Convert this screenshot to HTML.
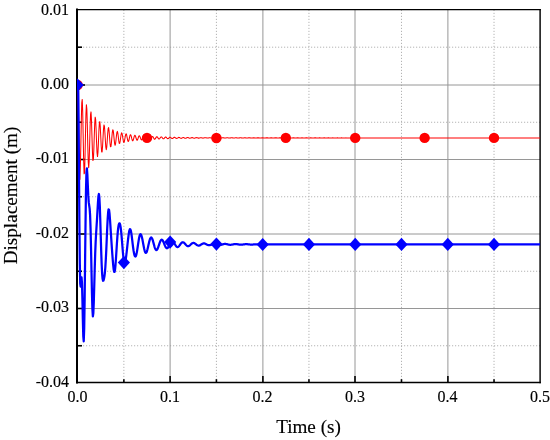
<!DOCTYPE html>
<html><head><meta charset="utf-8"><title>Displacement vs Time</title>
<style>html,body{margin:0;padding:0;background:#fff;}svg{display:block;}text{font-family:"Liberation Serif","Times New Roman",serif;fill:#000;stroke:#000;stroke-width:0.15px;}</style>
</head><body>
<svg width="550" height="440" viewBox="0 0 550 440">
<defs><clipPath id="c"><rect x="77.00" y="9.75" width="463.20" height="372.75"/></clipPath></defs>
<rect width="550" height="440" fill="#fff"/>
<g stroke="#b4b4b4" stroke-width="1" stroke-dasharray="1.2 1.8"><line x1="77.0" y1="47.20" x2="540.2" y2="47.20"/><line x1="77.0" y1="122.25" x2="540.2" y2="122.25"/><line x1="77.0" y1="196.75" x2="540.2" y2="196.75"/><line x1="77.0" y1="271.25" x2="540.2" y2="271.25"/><line x1="77.0" y1="345.75" x2="540.2" y2="345.75"/><line x1="123.87" y1="9.8" x2="123.87" y2="382.5"/><line x1="216.41" y1="9.8" x2="216.41" y2="382.5"/><line x1="308.95" y1="9.8" x2="308.95" y2="382.5"/><line x1="401.49" y1="9.8" x2="401.49" y2="382.5"/><line x1="494.03" y1="9.8" x2="494.03" y2="382.5"/></g>
<g stroke="#969696" stroke-width="1"><line x1="77.0" y1="85.00" x2="540.2" y2="85.00"/><line x1="77.0" y1="159.50" x2="540.2" y2="159.50"/><line x1="77.0" y1="234.00" x2="540.2" y2="234.00"/><line x1="77.0" y1="308.50" x2="540.2" y2="308.50"/><line x1="170.10" y1="9.8" x2="170.10" y2="382.5"/><line x1="262.90" y1="9.8" x2="262.90" y2="382.5"/><line x1="355.00" y1="9.8" x2="355.00" y2="382.5"/><line x1="447.90" y1="9.8" x2="447.90" y2="382.5"/></g>
<g stroke="#000" stroke-width="1.6"><line x1="77.0" y1="47.20" x2="82.0" y2="47.20"/><line x1="77.0" y1="85.00" x2="85.0" y2="85.00"/><line x1="77.0" y1="122.25" x2="82.0" y2="122.25"/><line x1="77.0" y1="159.50" x2="85.0" y2="159.50"/><line x1="77.0" y1="196.75" x2="82.0" y2="196.75"/><line x1="77.0" y1="234.00" x2="85.0" y2="234.00"/><line x1="77.0" y1="271.25" x2="82.0" y2="271.25"/><line x1="77.0" y1="308.50" x2="85.0" y2="308.50"/><line x1="77.0" y1="345.75" x2="82.0" y2="345.75"/><line x1="123.87" y1="382.5" x2="123.87" y2="379.2"/><line x1="170.10" y1="382.5" x2="170.10" y2="375.9"/><line x1="216.41" y1="382.5" x2="216.41" y2="379.2"/><line x1="262.90" y1="382.5" x2="262.90" y2="375.9"/><line x1="308.95" y1="382.5" x2="308.95" y2="379.2"/><line x1="355.00" y1="382.5" x2="355.00" y2="375.9"/><line x1="401.49" y1="382.5" x2="401.49" y2="379.2"/><line x1="447.90" y1="382.5" x2="447.90" y2="375.9"/><line x1="494.03" y1="382.5" x2="494.03" y2="379.2"/></g>
<g stroke="#000" stroke-linecap="square"><line x1="77" y1="9.6" x2="77" y2="382.55" stroke-width="2"/><line x1="77" y1="9.6" x2="540.1" y2="9.6" stroke-width="1.4"/><line x1="540.1" y1="9.6" x2="540.1" y2="382.55" stroke-width="1.45"/><line x1="77" y1="382.55" x2="540.1" y2="382.55" stroke-width="1.5"/></g>
<g clip-path="url(#c)">
<polyline fill="none" stroke="#ff0000" stroke-width="1.05" stroke-linejoin="round" points="77.60,85.00 78.06,92.26 78.53,117.94 78.99,150.56 79.45,175.52 79.91,179.48 80.38,165.40 80.84,145.49 81.30,120.68 81.76,102.84 82.23,99.42 82.69,111.34 83.15,134.85 83.62,159.27 84.08,173.85 84.54,172.95 85.00,157.69 85.47,135.02 85.93,114.62 86.39,104.76 86.85,109.00 87.32,124.92 87.78,145.41 88.24,161.84 88.70,167.64 89.17,160.93 89.63,145.08 90.09,127.03 90.56,114.32 91.02,111.90 91.48,120.30 91.94,135.53 92.41,151.00 92.87,160.35 93.33,160.02 93.79,150.62 94.26,136.43 94.72,123.52 95.18,117.15 95.65,119.61 96.11,129.47 96.57,142.33 97.03,152.75 97.50,156.57 97.96,152.53 98.42,142.67 98.88,131.32 99.35,123.22 99.81,121.54 100.27,126.67 100.73,136.17 101.20,145.93 101.66,151.92 102.12,151.86 102.59,146.06 103.05,137.19 103.51,129.03 103.97,124.91 104.44,126.32 104.90,132.43 105.36,140.50 105.82,147.11 106.29,149.62 106.75,147.19 107.21,141.06 107.68,133.92 108.14,128.76 108.60,127.61 109.06,130.74 109.53,136.67 109.99,142.82 110.45,146.65 110.91,146.71 111.38,143.14 111.84,137.59 112.30,132.43 112.77,129.77 113.23,130.58 113.69,134.36 114.15,139.42 114.62,143.61 115.08,145.25 115.54,143.80 116.00,139.98 116.47,135.50 116.93,132.21 117.39,131.42 117.85,133.33 118.32,137.03 118.78,140.91 119.24,143.36 119.71,143.46 120.17,141.26 120.63,137.79 121.09,134.52 121.56,132.81 122.02,133.27 122.48,135.61 122.94,138.78 123.41,141.44 123.87,142.52 124.33,141.64 124.80,139.27 125.26,136.45 125.72,134.36 126.18,133.82 126.65,134.99 127.11,137.30 127.57,139.74 128.03,141.32 128.50,141.41 128.96,140.06 129.42,137.88 129.89,135.81 130.35,134.70 130.81,134.95 131.27,136.41 131.74,138.42 132.20,140.12 132.66,140.83 133.12,140.30 133.59,138.81 134.05,137.01 134.51,135.65 134.97,135.28 135.44,136.01 135.90,137.48 136.36,139.07 136.83,140.11 137.29,140.19 137.75,139.33 138.21,137.90 138.68,136.53 139.14,135.77 139.60,135.92 140.06,136.89 140.53,138.24 140.99,139.41 141.45,139.92 141.92,139.57 142.38,138.54 142.84,137.27 143.30,136.29 143.77,136.01 144.23,136.53 144.69,137.61 145.15,138.78 145.62,139.55 146.08,139.62 146.54,138.97 147.00,137.89 147.47,136.84 147.93,136.26 148.39,136.38 148.86,137.13 149.32,138.18 149.78,139.09 150.24,139.47 150.71,139.19 151.17,138.38 151.63,137.40 152.09,136.65 152.56,136.45 153.02,136.86 153.48,137.69 153.95,138.57 154.41,139.15 154.87,139.19 155.33,138.69 155.80,137.89 156.26,137.11 156.72,136.70 157.18,136.79 157.65,137.34 158.11,138.11 158.57,138.75 159.04,139.03 159.50,138.82 159.96,138.24 160.42,137.54 160.89,137.02 161.35,136.88 161.81,137.16 162.27,137.75 162.74,138.37 163.20,138.78 163.66,138.80 164.12,138.46 164.59,137.89 165.05,137.35 165.51,137.06 165.98,137.12 166.44,137.51 166.90,138.04 167.36,138.50 167.83,138.69 168.29,138.55 168.75,138.14 169.21,137.65 169.68,137.28 170.14,137.18 170.60,137.38 171.07,137.79 171.53,138.23 171.99,138.51 172.45,138.54 172.92,138.30 173.38,137.90 173.84,137.52 174.30,137.31 174.77,137.35 175.23,137.62 175.69,138.00 176.16,138.32 176.62,138.46 177.08,138.36 177.54,138.08 178.01,137.73 178.47,137.46 178.93,137.39 179.39,137.53 179.86,137.82 180.32,138.13 180.78,138.34 181.24,138.36 181.71,138.18 182.17,137.90 182.63,137.63 183.10,137.48 183.56,137.50 184.02,137.70 184.48,137.97 184.95,138.20 185.41,138.30 185.87,138.23 186.33,138.03 186.80,137.78 187.26,137.59 187.72,137.53 188.19,137.63 188.65,137.84 189.11,138.07 189.57,138.22 190.04,138.23 190.50,138.11 190.96,137.90 191.42,137.70 191.89,137.59 192.35,137.61 192.81,137.75 193.27,137.95 193.74,138.12 194.20,138.19 194.66,138.14 195.13,138.00 195.59,137.81 196.05,137.67 196.51,137.63 196.98,137.70 197.44,137.85 197.90,138.02 198.36,138.13 198.83,138.14 199.29,138.05 199.75,137.90 200.22,137.76 200.68,137.67 201.14,137.69 201.60,137.79 202.07,137.93 202.53,138.06 202.99,138.12 203.45,138.08 203.92,137.97 204.38,137.84 204.84,137.73 205.31,137.70 205.77,137.75 206.23,137.86 206.69,137.99 207.16,138.07 207.62,138.08 208.08,138.02 208.54,137.90 209.01,137.79 209.47,137.73 209.93,137.74 210.39,137.81 210.86,137.92 211.32,138.02 211.78,138.06 212.25,138.04 212.71,137.96 213.17,137.85 213.63,137.77 214.10,137.75 214.56,137.79 215.02,137.87 215.48,137.97 215.95,138.03 216.41,138.04 216.87,137.99 217.34,137.90 217.80,137.82 218.26,137.77 218.72,137.78 219.19,137.83 219.65,137.92 220.11,137.99 220.57,138.03 221.04,138.01 221.50,137.94 221.96,137.86 222.43,137.80 222.89,137.78 223.35,137.81 223.81,137.88 224.28,137.95 224.74,138.00 225.20,138.01 225.66,137.97 226.13,137.90 226.59,137.84 227.05,137.80 227.51,137.80 227.98,137.85 228.44,137.91 228.90,137.97 229.37,138.00 229.83,137.98 230.29,137.93 230.75,137.87 231.22,137.82 231.68,137.81 232.14,137.83 232.60,137.88 233.07,137.94 233.53,137.98 233.99,137.98 234.46,137.95 234.92,137.90 235.38,137.85 235.84,137.82 236.31,137.83 236.77,137.86 237.23,137.91 237.69,137.95 238.16,137.98 238.62,137.96 239.08,137.93 239.55,137.88 240.01,137.84 240.47,137.83 240.93,137.85 241.40,137.88 241.86,137.93 242.32,137.96 242.78,137.97 243.25,137.94 243.71,137.90 244.17,137.86 244.63,137.84 245.10,137.84 245.56,137.87 246.02,137.91 246.49,137.94 246.95,137.96 247.41,137.95 247.87,137.92 248.34,137.88 248.80,137.85 249.26,137.84 249.72,137.86 250.19,137.89 250.65,137.92 251.11,137.95 251.58,137.95 252.04,137.93 252.50,137.90 252.96,137.87 253.43,137.85 253.89,137.85 254.35,137.87 254.81,137.90 255.28,137.93 255.74,137.95 256.20,137.94 256.66,137.92 257.13,137.89 257.59,137.86 258.05,137.86 258.52,137.87 258.98,137.89 259.44,137.92 259.90,137.94 260.37,137.94 260.83,137.93 261.29,137.90 261.75,137.88 262.22,137.86 262.68,137.86 263.14,137.88 263.61,137.90 264.07,137.93 264.53,137.94 264.99,137.93 265.46,137.91 265.92,137.89 266.38,137.87 266.84,137.86 267.31,137.87 267.77,137.89 268.23,137.91 268.70,137.93 269.16,137.93 269.62,137.92 270.08,137.90 270.55,137.88 271.01,137.87 271.47,137.87 271.93,137.88 272.40,137.90 272.86,137.92 273.32,137.93 273.78,137.93 274.25,137.91 274.71,137.89 275.17,137.88 275.64,137.87 276.10,137.88 276.56,137.89 277.02,137.91 277.49,137.92 277.95,137.93 278.41,137.92 278.87,137.90 279.34,137.89 279.80,137.88 280.26,137.88 280.73,137.89 281.19,137.90 281.65,137.92 282.11,137.92 282.58,137.92 283.04,137.91 283.50,137.89 283.96,137.88 284.43,137.88 284.89,137.88 285.35,137.89 285.81,137.91 286.28,137.92 286.74,137.92 287.20,137.92 287.67,137.90 288.13,137.89 288.59,137.88 289.05,137.88 289.52,137.89 289.98,137.90 290.44,137.91 290.90,137.92 291.37,137.92 291.83,137.91 292.29,137.90 292.76,137.89 293.22,137.88 293.68,137.89 294.14,137.89 294.61,137.91 295.07,137.92 295.53,137.92 295.99,137.91 296.46,137.90 296.92,137.89 297.38,137.88 297.85,137.88 298.31,137.89 298.77,137.90 299.23,137.91 299.70,137.92 300.16,137.91 300.62,137.91 301.08,137.90 301.55,137.89 302.01,137.89 302.47,137.89 302.93,137.90 303.40,137.90 303.86,137.91 304.32,137.91 304.79,137.91 305.25,137.90 305.71,137.89 306.17,137.89 306.64,137.89 307.10,137.89 307.56,137.90 308.02,137.91 308.49,137.91 308.95,137.91 309.41,137.91 309.88,137.90 310.34,137.89 310.80,137.89 311.26,137.89 311.73,137.90 312.19,137.90 312.65,137.91 313.11,137.91 313.58,137.91 314.04,137.90 314.50,137.89 314.97,137.89 315.43,137.89 315.89,137.89 316.35,137.90 316.82,137.91 317.28,137.91 317.74,137.91 318.20,137.90 318.67,137.90 319.13,137.89 319.59,137.89 320.05,137.89 320.52,137.90 320.98,137.90 321.44,137.91 321.91,137.91 322.37,137.91 322.83,137.90 323.29,137.90 323.76,137.89 324.22,137.89 324.68,137.89 325.14,137.90 325.61,137.91 326.07,137.91 326.53,137.91 327.00,137.90 327.46,137.90 327.92,137.89 328.38,137.89 328.85,137.89 329.31,137.90 329.77,137.90 330.23,137.91 330.70,137.91 331.16,137.91 331.62,137.90 332.09,137.90 332.55,137.89 333.01,137.89 333.47,137.90 333.94,137.90 334.40,137.90 334.86,137.91 335.32,137.91 335.79,137.90 336.25,137.90 336.71,137.90 337.17,137.89 337.64,137.89 338.10,137.90 338.56,137.90 339.03,137.90 339.49,137.91 339.95,137.90 340.41,137.90 340.88,137.90 341.34,137.89 341.80,137.89 342.26,137.90 342.73,137.90 343.19,137.90 343.65,137.91 344.12,137.91 344.58,137.90 345.04,137.90 345.50,137.90 345.97,137.89 346.43,137.90 346.89,137.90 347.35,137.90 347.82,137.90 348.28,137.90 348.74,137.90 349.20,137.90 349.67,137.90 350.13,137.90 350.59,137.90 351.06,137.90 351.52,137.90 351.98,137.90 352.44,137.90 352.91,137.90 353.37,137.90 353.83,137.90 354.29,137.90 354.76,137.90 355.22,137.90 355.68,137.90 356.15,137.90 356.61,137.90 357.07,137.90 357.53,137.90 358.00,137.90 358.46,137.90 358.92,137.90 359.38,137.90 359.85,137.90 360.31,137.90 360.77,137.90 361.24,137.90 361.70,137.90 362.16,137.90 362.62,137.90 363.09,137.90 363.55,137.90 364.01,137.90 364.47,137.90 364.94,137.90 365.40,137.90 365.86,137.90 366.32,137.90 366.79,137.90 367.25,137.90 367.71,137.90 368.18,137.90 368.64,137.90 369.10,137.90 369.56,137.90 370.03,137.90 370.49,137.90 370.95,137.90 371.41,137.90 371.88,137.90 372.34,137.90 372.80,137.90 373.27,137.90 373.73,137.90 374.19,137.90 374.65,137.90 375.12,137.90 375.58,137.90 376.04,137.90 376.50,137.90 376.97,137.90 377.43,137.90 377.89,137.90 378.36,137.90 378.82,137.90 379.28,137.90 379.74,137.90 380.21,137.90 380.67,137.90 381.13,137.90 381.59,137.90 382.06,137.90 382.52,137.90 382.98,137.90 383.44,137.90 383.91,137.90 384.37,137.90 384.83,137.90 385.30,137.90 385.76,137.90 386.22,137.90 386.68,137.90 387.15,137.90 387.61,137.90 388.07,137.90 388.53,137.90 389.00,137.90 389.46,137.90 389.92,137.90 390.39,137.90 390.85,137.90 391.31,137.90 391.77,137.90 392.24,137.90 392.70,137.90 393.16,137.90 393.62,137.90 394.09,137.90 394.55,137.90 395.01,137.90 395.47,137.90 395.94,137.90 396.40,137.90 396.86,137.90 397.33,137.90 397.79,137.90 398.25,137.90 398.71,137.90 399.18,137.90 399.64,137.90 400.10,137.90 400.56,137.90 401.03,137.90 401.49,137.90 401.95,137.90 402.42,137.90 402.88,137.90 403.34,137.90 403.80,137.90 404.27,137.90 404.73,137.90 405.19,137.90 405.65,137.90 406.12,137.90 406.58,137.90 407.04,137.90 407.51,137.90 407.97,137.90 408.43,137.90 408.89,137.90 409.36,137.90 409.82,137.90 410.28,137.90 410.74,137.90 411.21,137.90 411.67,137.90 412.13,137.90 412.59,137.90 413.06,137.90 413.52,137.90 413.98,137.90 414.45,137.90 414.91,137.90 415.37,137.90 415.83,137.90 416.30,137.90 416.76,137.90 417.22,137.90 417.68,137.90 418.15,137.90 418.61,137.90 419.07,137.90 419.54,137.90 420.00,137.90 420.46,137.90 420.92,137.90 421.39,137.90 421.85,137.90 422.31,137.90 422.77,137.90 423.24,137.90 423.70,137.90 424.16,137.90 424.62,137.90 425.09,137.90 425.55,137.90 426.01,137.90 426.48,137.90 426.94,137.90 427.40,137.90 427.86,137.90 428.33,137.90 428.79,137.90 429.25,137.90 429.71,137.90 430.18,137.90 430.64,137.90 431.10,137.90 431.57,137.90 432.03,137.90 432.49,137.90 432.95,137.90 433.42,137.90 433.88,137.90 434.34,137.90 434.80,137.90 435.27,137.90 435.73,137.90 436.19,137.90 436.66,137.90 437.12,137.90 437.58,137.90 438.04,137.90 438.51,137.90 438.97,137.90 439.43,137.90 439.89,137.90 440.36,137.90 440.82,137.90 441.28,137.90 441.74,137.90 442.21,137.90 442.67,137.90 443.13,137.90 443.60,137.90 444.06,137.90 444.52,137.90 444.98,137.90 445.45,137.90 445.91,137.90 446.37,137.90 446.83,137.90 447.30,137.90 447.76,137.90 448.22,137.90 448.69,137.90 449.15,137.90 449.61,137.90 450.07,137.90 450.54,137.90 451.00,137.90 451.46,137.90 451.92,137.90 452.39,137.90 452.85,137.90 453.31,137.90 453.78,137.90 454.24,137.90 454.70,137.90 455.16,137.90 455.63,137.90 456.09,137.90 456.55,137.90 457.01,137.90 457.48,137.90 457.94,137.90 458.40,137.90 458.86,137.90 459.33,137.90 459.79,137.90 460.25,137.90 460.72,137.90 461.18,137.90 461.64,137.90 462.10,137.90 462.57,137.90 463.03,137.90 463.49,137.90 463.95,137.90 464.42,137.90 464.88,137.90 465.34,137.90 465.81,137.90 466.27,137.90 466.73,137.90 467.19,137.90 467.66,137.90 468.12,137.90 468.58,137.90 469.04,137.90 469.51,137.90 469.97,137.90 470.43,137.90 470.89,137.90 471.36,137.90 471.82,137.90 472.28,137.90 472.75,137.90 473.21,137.90 473.67,137.90 474.13,137.90 474.60,137.90 475.06,137.90 475.52,137.90 475.98,137.90 476.45,137.90 476.91,137.90 477.37,137.90 477.84,137.90 478.30,137.90 478.76,137.90 479.22,137.90 479.69,137.90 480.15,137.90 480.61,137.90 481.07,137.90 481.54,137.90 482.00,137.90 482.46,137.90 482.93,137.90 483.39,137.90 483.85,137.90 484.31,137.90 484.78,137.90 485.24,137.90 485.70,137.90 486.16,137.90 486.63,137.90 487.09,137.90 487.55,137.90 488.01,137.90 488.48,137.90 488.94,137.90 489.40,137.90 489.87,137.90 490.33,137.90 490.79,137.90 491.25,137.90 491.72,137.90 492.18,137.90 492.64,137.90 493.10,137.90 493.57,137.90 494.03,137.90 494.49,137.90 494.96,137.90 495.42,137.90 495.88,137.90 496.34,137.90 496.81,137.90 497.27,137.90 497.73,137.90 498.19,137.90 498.66,137.90 499.12,137.90 499.58,137.90 500.05,137.90 500.51,137.90 500.97,137.90 501.43,137.90 501.90,137.90 502.36,137.90 502.82,137.90 503.28,137.90 503.75,137.90 504.21,137.90 504.67,137.90 505.13,137.90 505.60,137.90 506.06,137.90 506.52,137.90 506.99,137.90 507.45,137.90 507.91,137.90 508.37,137.90 508.84,137.90 509.30,137.90 509.76,137.90 510.22,137.90 510.69,137.90 511.15,137.90 511.61,137.90 512.08,137.90 512.54,137.90 513.00,137.90 513.46,137.90 513.93,137.90 514.39,137.90 514.85,137.90 515.31,137.90 515.78,137.90 516.24,137.90 516.70,137.90 517.16,137.90 517.63,137.90 518.09,137.90 518.55,137.90 519.02,137.90 519.48,137.90 519.94,137.90 520.40,137.90 520.87,137.90 521.33,137.90 521.79,137.90 522.25,137.90 522.72,137.90 523.18,137.90 523.64,137.90 524.11,137.90 524.57,137.90 525.03,137.90 525.49,137.90 525.96,137.90 526.42,137.90 526.88,137.90 527.34,137.90 527.81,137.90 528.27,137.90 528.73,137.90 529.20,137.90 529.66,137.90 530.12,137.90 530.58,137.90 531.05,137.90 531.51,137.90 531.97,137.90 532.43,137.90 532.90,137.90 533.36,137.90 533.82,137.90 534.28,137.90 534.75,137.90 535.21,137.90 535.67,137.90 536.14,137.90 536.60,137.90 537.06,137.90 537.52,137.90 537.99,137.90 538.45,137.90 538.91,137.90 539.37,137.90 539.84,137.90 540.30,137.90"/>
<circle cx="77.60" cy="85.00" r="5.2" fill="#ff0000"/>
<circle cx="147.00" cy="137.89" r="5.2" fill="#ff0000"/>
<circle cx="216.41" cy="138.04" r="5.2" fill="#ff0000"/>
<circle cx="285.81" cy="137.91" r="5.2" fill="#ff0000"/>
<circle cx="355.22" cy="137.90" r="5.2" fill="#ff0000"/>
<circle cx="424.62" cy="137.90" r="5.2" fill="#ff0000"/>
<circle cx="494.03" cy="137.90" r="5.2" fill="#ff0000"/>
<polyline fill="none" stroke="#0000ff" stroke-width="2.25" stroke-linejoin="round" points="78.20,85.00 78.59,119.77 78.99,171.57 79.40,224.01 79.81,263.44 80.23,283.55 80.66,286.60 81.09,281.14 81.52,277.45 81.96,282.81 82.40,298.42 82.84,319.24 83.29,336.45 83.73,341.32 84.18,328.97 84.63,300.29 85.08,261.58 85.54,222.06 85.99,190.53 86.45,172.41 86.90,168.31 87.36,174.63 87.82,185.54 88.28,195.67 88.73,202.16 89.19,205.46 89.65,208.61 90.11,215.44 90.57,228.59 91.03,248.12 91.50,271.24 91.96,293.30 92.42,309.44 92.88,316.30 93.34,313.08 93.80,301.60 94.26,285.42 94.73,268.46 95.19,253.64 95.65,242.17 96.11,233.53 96.57,226.21 97.04,218.75 97.50,210.60 97.96,202.51 98.42,196.28 98.89,194.01 99.35,197.21 99.81,206.18 100.27,219.74 100.74,235.65 101.20,251.26 101.66,264.32 102.12,273.55 102.59,278.79 103.05,280.74 103.51,280.47 103.97,278.87 104.44,276.29 104.90,272.51 105.36,267.02 105.82,259.44 106.29,249.84 106.75,238.96 107.21,228.09 107.68,218.74 108.14,212.21 108.60,209.27 109.06,209.95 109.53,213.68 109.99,219.50 110.45,226.40 110.91,233.61 111.38,240.68 111.84,247.48 112.30,253.98 112.77,260.06 113.23,265.43 113.69,269.56 114.15,271.86 114.62,271.85 115.08,269.34 115.54,264.54 116.00,258.04 116.47,250.66 116.93,243.28 117.39,236.62 117.85,231.16 118.32,227.13 118.78,224.53 119.24,223.28 119.71,223.31 120.17,224.60 120.63,227.16 121.09,230.93 121.56,235.79 122.02,241.39 122.48,247.26 122.94,252.82 123.41,257.52 123.87,260.91 124.33,262.73 124.80,262.96 125.26,261.74 125.72,259.35 126.18,256.08 126.65,252.23 127.11,248.04 127.57,243.75 128.03,239.58 128.50,235.77 128.96,232.59 129.42,230.32 129.89,229.16 130.35,229.25 130.81,230.58 131.27,232.99 131.74,236.23 132.20,239.95 132.66,243.81 133.12,247.49 133.59,250.75 134.05,253.38 134.51,255.28 134.97,256.37 135.44,256.61 135.90,255.99 136.36,254.55 136.83,252.37 137.29,249.62 137.75,246.52 138.21,243.32 138.68,240.30 139.14,237.72 139.60,235.76 140.06,234.56 140.53,234.15 140.99,234.53 141.45,235.59 141.92,237.24 142.38,239.33 142.84,241.71 143.30,244.22 143.77,246.68 144.23,248.91 144.69,250.77 145.15,252.09 145.62,252.80 146.08,252.84 146.54,252.22 147.01,251.02 147.47,249.36 147.93,247.40 148.39,245.30 148.86,243.23 149.32,241.32 149.78,239.71 150.24,238.49 150.71,237.74 151.17,237.49 151.63,237.75 152.09,238.50 152.56,239.68 153.02,241.17 153.48,242.87 153.95,244.63 154.41,246.32 154.87,247.79 155.33,248.96 155.80,249.73 156.26,250.09 156.72,250.00 157.18,249.52 157.65,248.67 158.11,247.55 158.57,246.23 159.04,244.81 159.50,243.41 159.96,242.12 160.42,241.03 160.89,240.24 161.35,239.78 161.81,239.69 162.27,239.95 162.74,240.54 163.20,241.40 163.66,242.45 164.12,243.60 164.59,244.78 165.05,245.88 165.51,246.83 165.98,247.58 166.44,248.07 166.90,248.27 167.36,248.18 167.83,247.81 168.29,247.19 168.75,246.39 169.21,245.46 169.68,244.49 170.14,243.54 170.60,242.69 171.07,242.00 171.53,241.51 171.99,241.25 172.45,241.24 172.92,241.45 173.38,241.88 173.84,242.48 174.30,243.20 174.77,243.99 175.23,244.79 175.69,245.53 176.16,246.16 176.62,246.64 177.08,246.93 177.54,247.03 178.01,246.93 178.47,246.64 178.93,246.20 179.39,245.63 179.86,245.00 180.32,244.34 180.78,243.71 181.24,243.15 181.71,242.71 182.17,242.40 182.63,242.25 183.10,242.27 183.56,242.44 184.02,242.75 184.48,243.18 184.95,243.69 185.41,244.23 185.87,244.76 186.33,245.25 186.80,245.66 187.26,245.96 187.72,246.14 188.19,246.18 188.65,246.09 189.11,245.87 189.57,245.56 190.04,245.16 190.50,244.73 190.96,244.28 191.42,243.86 191.89,243.49 192.35,243.20 192.81,243.01 193.28,242.93 193.74,242.97 194.20,243.10 194.66,243.33 195.13,243.63 195.59,243.98 196.05,244.35 196.51,244.71 196.98,245.03 197.44,245.30 197.90,245.49 198.36,245.59 198.83,245.60 199.29,245.52 199.75,245.36 200.22,245.14 200.68,244.86 201.14,244.57 201.60,244.27 202.07,243.98 202.53,243.74 202.99,243.56 203.45,243.45 203.92,243.41 204.38,243.44 204.84,243.55 205.31,243.71 205.77,243.92 206.23,244.16 206.69,244.41 207.16,244.65 207.62,244.86 208.08,245.04 208.54,245.15 209.01,245.21 209.47,245.21 209.93,245.15 210.39,245.03 210.86,244.87 211.32,244.68 211.78,244.48 212.25,244.27 212.71,244.09 213.17,243.93 213.63,243.81 214.10,243.74 214.56,243.73 215.02,243.76 215.48,243.84 215.95,243.96 216.41,244.10 216.87,244.27 217.34,244.44 217.80,244.60 218.26,244.74 218.72,244.85 219.19,244.92 219.65,244.95 220.11,244.94 220.57,244.89 221.04,244.81 221.50,244.70 221.96,244.56 222.43,244.43 222.89,244.29 223.35,244.17 223.81,244.06 224.28,243.99 224.74,243.95 225.20,243.94 225.66,243.97 226.13,244.03 226.59,244.12 227.05,244.22 227.51,244.33 227.98,244.45 228.44,244.55 228.90,244.64 229.37,244.72 229.83,244.76 230.29,244.78 230.75,244.76 231.22,244.73 231.68,244.66 232.14,244.59 232.60,244.49 233.07,244.40 233.53,244.31 233.99,244.23 234.46,244.16 234.92,244.12 235.38,244.09 235.84,244.09 236.31,244.12 236.77,244.16 237.23,244.22 237.69,244.29 238.16,244.37 238.62,244.44 239.08,244.52 239.55,244.58 240.01,244.62 240.47,244.65 240.93,244.66 241.40,244.64 241.86,244.61 242.32,244.57 242.78,244.51 243.25,244.45 243.71,244.39 244.17,244.33 244.63,244.27 245.10,244.23 245.56,244.20 246.02,244.19 246.49,244.19 246.95,244.21 247.41,244.24 247.87,244.29 248.34,244.34 248.80,244.39 249.26,244.44 249.72,244.49 250.19,244.53 250.65,244.55 251.11,244.57 251.58,244.57 252.04,244.56 252.50,244.54 252.96,244.51 253.43,244.47 253.89,244.43 254.35,244.38 254.81,244.34 255.28,244.31 255.74,244.28 256.20,244.26 256.66,244.26 257.13,244.26 257.59,244.28 258.05,244.30 258.52,244.33 258.98,244.36 259.44,244.40 259.90,244.43 260.37,244.46 260.83,244.49 261.29,244.51 261.75,244.52 262.22,244.52 262.68,244.51 263.14,244.49 263.61,244.47 264.07,244.44 264.53,244.41 264.99,244.38 265.46,244.36 265.92,244.33 266.38,244.32 266.84,244.31 267.31,244.30 267.77,244.31 268.23,244.32 268.70,244.33 269.16,244.36 269.62,244.38 270.08,244.40 270.55,244.43 271.01,244.45 271.47,244.46 271.93,244.47 272.40,244.48 272.86,244.48 273.32,244.47 273.78,244.46 274.25,244.44 274.71,244.43 275.17,244.41 275.64,244.39 276.10,244.37 276.56,244.35 277.02,244.34 277.49,244.34 277.95,244.33 278.41,244.34 278.87,244.35 279.34,244.36 279.80,244.37 280.26,244.39 280.73,244.41 281.19,244.42 281.65,244.43 282.11,244.44 282.58,244.45 283.04,244.45 283.50,244.45 283.96,244.45 284.43,244.44 284.89,244.43 285.35,244.41 285.81,244.40 286.28,244.39 286.74,244.38 287.20,244.37 287.67,244.36 288.13,244.36 288.59,244.36 289.05,244.36 289.52,244.36 289.98,244.37 290.44,244.38 290.90,244.39 291.37,244.41 291.83,244.42 292.29,244.42 292.76,244.43 293.22,244.44 293.68,244.44 294.14,244.44 294.61,244.43 295.07,244.43 295.53,244.42 295.99,244.41 296.46,244.40 296.92,244.39 297.38,244.38 297.85,244.38 298.31,244.37 298.77,244.37 299.23,244.37 299.70,244.37 300.16,244.38 300.62,244.38 301.08,244.39 301.55,244.40 302.01,244.40 302.47,244.41 302.93,244.42 303.40,244.42 303.86,244.42 304.32,244.42 304.79,244.42 305.25,244.42 305.71,244.42 306.17,244.41 306.64,244.40 307.10,244.40 307.56,244.39 308.02,244.39 308.49,244.38 308.95,244.38 309.41,244.38 309.88,244.38 310.34,244.38 310.80,244.39 311.26,244.39 311.73,244.39 312.19,244.40 312.65,244.40 313.11,244.41 313.58,244.41 314.04,244.42 314.50,244.42 314.97,244.42 315.43,244.42 315.89,244.41 316.35,244.41 316.82,244.41 317.28,244.40 317.74,244.40 318.20,244.39 318.67,244.39 319.13,244.39 319.59,244.39 320.05,244.39 320.52,244.39 320.98,244.39 321.44,244.39 321.91,244.39 322.37,244.40 322.83,244.40 323.29,244.40 323.76,244.41 324.22,244.41 324.68,244.41 325.14,244.41 325.61,244.41 326.07,244.41 326.53,244.41 327.00,244.41 327.46,244.40 327.92,244.40 328.38,244.40 328.85,244.40 329.31,244.39 329.77,244.39 330.23,244.39 330.70,244.39 331.16,244.39 331.62,244.39 332.09,244.39 332.55,244.40 333.01,244.40 333.47,244.40 333.94,244.40 334.40,244.40 334.86,244.41 335.32,244.41 335.79,244.41 336.25,244.41 336.71,244.41 337.17,244.41 337.64,244.40 338.10,244.40 338.56,244.40 339.03,244.40 339.49,244.40 339.95,244.40 340.41,244.39 340.88,244.39 341.34,244.39 341.80,244.39 342.26,244.39 342.73,244.40 343.19,244.40 343.65,244.40 344.12,244.40 344.58,244.40 345.04,244.40 345.50,244.40 345.97,244.41 346.43,244.41 346.89,244.41 347.35,244.40 347.82,244.40 348.28,244.40 348.74,244.40 349.20,244.40 349.67,244.40 350.13,244.40 350.59,244.40 351.06,244.40 351.52,244.40 351.98,244.40 352.44,244.40 352.91,244.40 353.37,244.40 353.83,244.40 354.29,244.40 354.76,244.40 355.22,244.40 355.68,244.40 356.15,244.40 356.61,244.40 357.07,244.40 357.53,244.40 358.00,244.40 358.46,244.40 358.92,244.40 359.38,244.40 359.85,244.40 360.31,244.40 360.77,244.40 361.24,244.40 361.70,244.40 362.16,244.40 362.62,244.40 363.09,244.40 363.55,244.40 364.01,244.40 364.47,244.40 364.94,244.40 365.40,244.40 365.86,244.40 366.32,244.40 366.79,244.40 367.25,244.40 367.71,244.40 368.18,244.40 368.64,244.40 369.10,244.40 369.56,244.40 370.03,244.40 370.49,244.40 370.95,244.40 371.41,244.40 371.88,244.40 372.34,244.40 372.80,244.40 373.27,244.40 373.73,244.40 374.19,244.40 374.65,244.40 375.12,244.40 375.58,244.40 376.04,244.40 376.50,244.40 376.97,244.40 377.43,244.40 377.89,244.40 378.36,244.40 378.82,244.40 379.28,244.40 379.74,244.40 380.21,244.40 380.67,244.40 381.13,244.40 381.59,244.40 382.06,244.40 382.52,244.40 382.98,244.40 383.44,244.40 383.91,244.40 384.37,244.40 384.83,244.40 385.30,244.40 385.76,244.40 386.22,244.40 386.68,244.40 387.15,244.40 387.61,244.40 388.07,244.40 388.53,244.40 389.00,244.40 389.46,244.40 389.92,244.40 390.39,244.40 390.85,244.40 391.31,244.40 391.77,244.40 392.24,244.40 392.70,244.40 393.16,244.40 393.62,244.40 394.09,244.40 394.55,244.40 395.01,244.40 395.47,244.40 395.94,244.40 396.40,244.40 396.86,244.40 397.33,244.40 397.79,244.40 398.25,244.40 398.71,244.40 399.18,244.40 399.64,244.40 400.10,244.40 400.56,244.40 401.03,244.40 401.49,244.40 401.95,244.40 402.42,244.40 402.88,244.40 403.34,244.40 403.80,244.40 404.27,244.40 404.73,244.40 405.19,244.40 405.65,244.40 406.12,244.40 406.58,244.40 407.04,244.40 407.51,244.40 407.97,244.40 408.43,244.40 408.89,244.40 409.36,244.40 409.82,244.40 410.28,244.40 410.74,244.40 411.21,244.40 411.67,244.40 412.13,244.40 412.59,244.40 413.06,244.40 413.52,244.40 413.98,244.40 414.45,244.40 414.91,244.40 415.37,244.40 415.83,244.40 416.30,244.40 416.76,244.40 417.22,244.40 417.68,244.40 418.15,244.40 418.61,244.40 419.07,244.40 419.54,244.40 420.00,244.40 420.46,244.40 420.92,244.40 421.39,244.40 421.85,244.40 422.31,244.40 422.77,244.40 423.24,244.40 423.70,244.40 424.16,244.40 424.62,244.40 425.09,244.40 425.55,244.40 426.01,244.40 426.48,244.40 426.94,244.40 427.40,244.40 427.86,244.40 428.33,244.40 428.79,244.40 429.25,244.40 429.71,244.40 430.18,244.40 430.64,244.40 431.10,244.40 431.57,244.40 432.03,244.40 432.49,244.40 432.95,244.40 433.42,244.40 433.88,244.40 434.34,244.40 434.80,244.40 435.27,244.40 435.73,244.40 436.19,244.40 436.66,244.40 437.12,244.40 437.58,244.40 438.04,244.40 438.51,244.40 438.97,244.40 439.43,244.40 439.89,244.40 440.36,244.40 440.82,244.40 441.28,244.40 441.74,244.40 442.21,244.40 442.67,244.40 443.13,244.40 443.60,244.40 444.06,244.40 444.52,244.40 444.98,244.40 445.45,244.40 445.91,244.40 446.37,244.40 446.83,244.40 447.30,244.40 447.76,244.40 448.22,244.40 448.69,244.40 449.15,244.40 449.61,244.40 450.07,244.40 450.54,244.40 451.00,244.40 451.46,244.40 451.92,244.40 452.39,244.40 452.85,244.40 453.31,244.40 453.78,244.40 454.24,244.40 454.70,244.40 455.16,244.40 455.63,244.40 456.09,244.40 456.55,244.40 457.01,244.40 457.48,244.40 457.94,244.40 458.40,244.40 458.86,244.40 459.33,244.40 459.79,244.40 460.25,244.40 460.72,244.40 461.18,244.40 461.64,244.40 462.10,244.40 462.57,244.40 463.03,244.40 463.49,244.40 463.95,244.40 464.42,244.40 464.88,244.40 465.34,244.40 465.81,244.40 466.27,244.40 466.73,244.40 467.19,244.40 467.66,244.40 468.12,244.40 468.58,244.40 469.04,244.40 469.51,244.40 469.97,244.40 470.43,244.40 470.89,244.40 471.36,244.40 471.82,244.40 472.28,244.40 472.75,244.40 473.21,244.40 473.67,244.40 474.13,244.40 474.60,244.40 475.06,244.40 475.52,244.40 475.98,244.40 476.45,244.40 476.91,244.40 477.37,244.40 477.84,244.40 478.30,244.40 478.76,244.40 479.22,244.40 479.69,244.40 480.15,244.40 480.61,244.40 481.07,244.40 481.54,244.40 482.00,244.40 482.46,244.40 482.93,244.40 483.39,244.40 483.85,244.40 484.31,244.40 484.78,244.40 485.24,244.40 485.70,244.40 486.16,244.40 486.63,244.40 487.09,244.40 487.55,244.40 488.01,244.40 488.48,244.40 488.94,244.40 489.40,244.40 489.87,244.40 490.33,244.40 490.79,244.40 491.25,244.40 491.72,244.40 492.18,244.40 492.64,244.40 493.10,244.40 493.57,244.40 494.03,244.40 494.49,244.40 494.96,244.40 495.42,244.40 495.88,244.40 496.34,244.40 496.81,244.40 497.27,244.40 497.73,244.40 498.19,244.40 498.66,244.40 499.12,244.40 499.58,244.40 500.05,244.40 500.51,244.40 500.97,244.40 501.43,244.40 501.90,244.40 502.36,244.40 502.82,244.40 503.28,244.40 503.75,244.40 504.21,244.40 504.67,244.40 505.13,244.40 505.60,244.40 506.06,244.40 506.52,244.40 506.99,244.40 507.45,244.40 507.91,244.40 508.37,244.40 508.84,244.40 509.30,244.40 509.76,244.40 510.22,244.40 510.69,244.40 511.15,244.40 511.61,244.40 512.08,244.40 512.54,244.40 513.00,244.40 513.46,244.40 513.93,244.40 514.39,244.40 514.85,244.40 515.31,244.40 515.78,244.40 516.24,244.40 516.70,244.40 517.16,244.40 517.63,244.40 518.09,244.40 518.55,244.40 519.02,244.40 519.48,244.40 519.94,244.40 520.40,244.40 520.87,244.40 521.33,244.40 521.79,244.40 522.25,244.40 522.72,244.40 523.18,244.40 523.64,244.40 524.11,244.40 524.57,244.40 525.03,244.40 525.49,244.40 525.96,244.40 526.42,244.40 526.88,244.40 527.34,244.40 527.81,244.40 528.27,244.40 528.73,244.40 529.20,244.40 529.66,244.40 530.12,244.40 530.58,244.40 531.05,244.40 531.51,244.40 531.97,244.40 532.43,244.40 532.90,244.40 533.36,244.40 533.82,244.40 534.28,244.40 534.75,244.40 535.21,244.40 535.67,244.40 536.14,244.40 536.60,244.40 537.06,244.40 537.52,244.40 537.99,244.40 538.45,244.40 538.91,244.40 539.37,244.40 539.84,244.40 540.30,244.40"/>
<path d="M77.60 78.40L83.70 85.00L77.60 91.60L71.50 85.00Z" fill="#0000ff"/>
<path d="M123.87 256.00L129.97 262.60L123.87 269.20L117.77 262.60Z" fill="#0000ff"/>
<path d="M170.14 235.50L176.24 242.10L170.14 248.70L164.04 242.10Z" fill="#0000ff"/>
<path d="M216.41 237.50L222.51 244.10L216.41 250.70L210.31 244.10Z" fill="#0000ff"/>
<path d="M262.68 237.91L268.78 244.51L262.68 251.11L256.58 244.51Z" fill="#0000ff"/>
<path d="M308.95 237.78L315.05 244.38L308.95 250.98L302.85 244.38Z" fill="#0000ff"/>
<path d="M355.22 237.80L361.32 244.40L355.22 251.00L349.12 244.40Z" fill="#0000ff"/>
<path d="M401.49 237.80L407.59 244.40L401.49 251.00L395.39 244.40Z" fill="#0000ff"/>
<path d="M447.76 237.80L453.86 244.40L447.76 251.00L441.66 244.40Z" fill="#0000ff"/>
<path d="M494.03 237.80L500.13 244.40L494.03 251.00L487.93 244.40Z" fill="#0000ff"/>
</g>
<g font-size="16"><text x="69.1" y="15.00" text-anchor="end">0.01</text><text x="69.1" y="88.86" text-anchor="end">0.00</text><text x="69.1" y="163.32" text-anchor="end">-0.01</text><text x="69.1" y="237.78" text-anchor="end">-0.02</text><text x="69.1" y="312.24" text-anchor="end">-0.03</text><text x="69.1" y="386.70" text-anchor="end">-0.04</text><text x="77.45" y="402.1" text-anchor="middle">0.0</text><text x="169.95" y="402.1" text-anchor="middle">0.1</text><text x="262.45" y="402.1" text-anchor="middle">0.2</text><text x="354.95" y="402.1" text-anchor="middle">0.3</text><text x="447.45" y="402.1" text-anchor="middle">0.4</text><text x="539.95" y="402.1" text-anchor="middle">0.5</text></g>
<text x="308.5" y="433.1" font-size="19.15" text-anchor="middle">Time (s)</text>
<text transform="translate(17.2,195.5) rotate(-90)" font-size="19.15" text-anchor="middle">Displacement (m)</text>
</svg>
</body></html>
